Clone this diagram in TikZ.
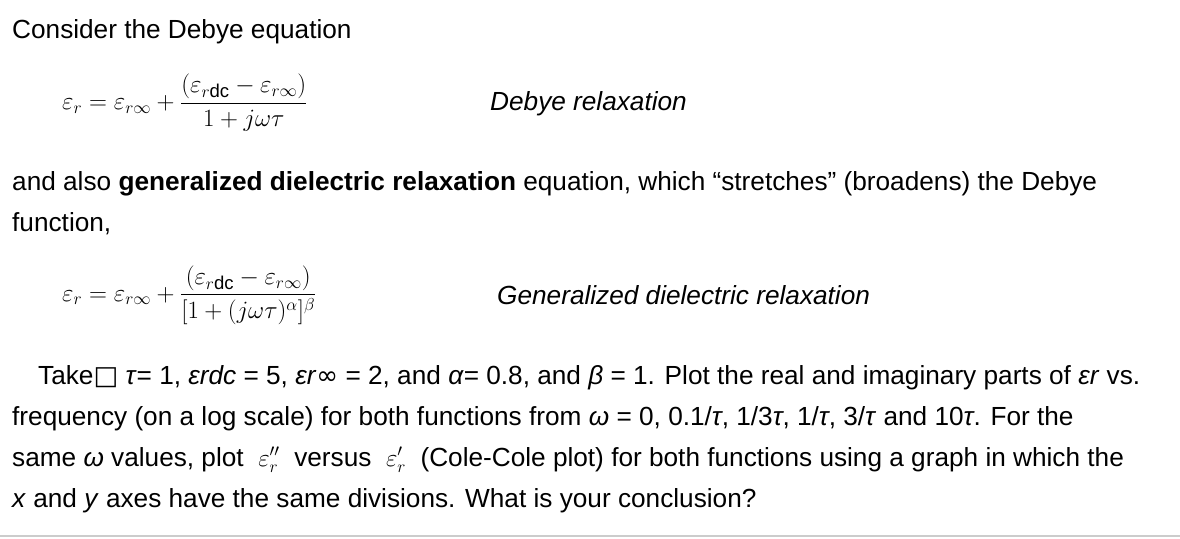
\documentclass[tikz,border=0pt]{standalone}
\usepackage{amsmath}
\usepackage{fontspec}
\setmainfont{Liberation Sans}
\newfontfamily\symf{DejaVu Sans}
\begin{document}
\begin{tikzpicture}[x=1pt,y=-1pt,
  txt/.style={anchor=base west,inner sep=0,font=\fontsize{26.2}{30}\selectfont},
  eq/.style={anchor=west,inner sep=0,font=\fontsize{26.5}{30}\selectfont}]
\useasboundingbox (0,0) rectangle (1180,538);
\draw[gray!40,line width=2] (0,536) -- (1180,536);
\node[txt] (l1) at (12,38) {Consider the Debye equation};
\node[eq] (e1) at (62,103) {$\varepsilon_r=\varepsilon_{r\infty}+\dfrac{(\varepsilon_{r\mathrm{dc}}-\varepsilon_{r\infty})}{1+j\omega\tau}$};
\node[txt] (d1) at (490,110) {\textit{Debye relaxation}};
\node[txt] (l2) at (12,190) {and also \textbf{generalized dielectric relaxation} equation, which “stretches” (broadens) the Debye};
\node[txt] (l3) at (12,231) {function,};
\node[eq] (e2) at (62,295) {$\varepsilon_r=\varepsilon_{r\infty}+\dfrac{(\varepsilon_{r\mathrm{dc}}-\varepsilon_{r\infty})}{[1+(j\omega\tau)^{\alpha}]^{\beta}}$};
\node[txt] (d2) at (497,304) {\textit{Generalized dielectric relaxation}};
\node[txt] (l4) at (38,384) {Take{\symf □} \textit{τ}= 1, \textit{εrdc} = 5, \textit{εr}{\symf ∞} = 2, and \textit{α}= 0.8, and \textit{β} = 1. Plot the real and imaginary parts of \textit{εr} vs.};
\node[txt] (l5) at (12,425) {frequency (on a log scale) for both functions from \textit{ω} = 0, 0.1/\textit{τ}, 1/3\textit{τ}, 1/\textit{τ}, 3/\textit{τ} and 10\textit{τ}. For the};
\node[txt] (l6) at (12,466) {same \textit{ω} values, plot \ $\varepsilon_r''$ \ versus \ $\varepsilon_r'$ \ (Cole-Cole plot) for both functions using a graph in which the};
\node[txt] (l7) at (12,507) {\textit{x} and \textit{y} axes have the same divisions. What is your conclusion?};
\end{tikzpicture}
\end{document}
